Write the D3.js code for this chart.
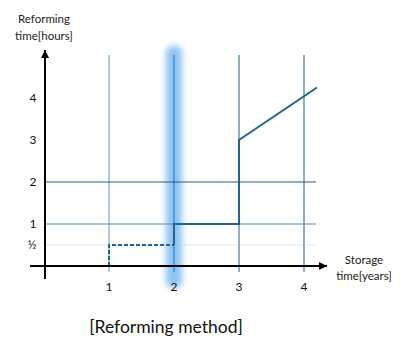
<!DOCTYPE html>
<html>
<head>
<meta charset="utf-8">
<script src="https://cdn.jsdelivr.net/npm/d3@7"></script>
<style>
  body { margin: 0; background: #fff; }
  text { font-family: Lato, "Open Sans", sans-serif; }
</style>
</head>
<body>
<div id="chart"></div>
<script>
var xTicks = [1, 2, 3, 4];
var yTicks = [1, 2, 3, 4];
var yTickLabels = ["1", "2", "3", "4"];
var yGrid = [1, 2];
var halfLine = 0.5;
var highlightYear = 2;

// dashed part then solid part of the reforming-time step line
var dashedPath = [[1, 0], [1, 0.5], [2, 0.5]];
var solidPath = [[2, 0.5], [2, 1], [3, 1], [3, 3], [4.2, 4.25]];

var w = 410, h = 346;

var x = d3.scaleLinear().domain([0, 4]).range([44, 304]);
var y = d3.scaleLinear().domain([0, 4]).range([266, 98]);

var svg = d3.select("#chart").append("svg")
  .attr("width", w)
  .attr("height", h);

var defs = svg.append("defs");
defs.append("filter").attr("id", "glow")
  .attr("x", "-100%").attr("width", "300%")
  .append("feGaussianBlur").attr("stdDeviation", 3);
defs.append("marker").attr("id", "arrow")
  .attr("viewBox", "0 0 10 10")
  .attr("refX", 10).attr("refY", 5)
  .attr("markerWidth", 4).attr("markerHeight", 4)
  .attr("orient", "auto")
  .append("path").attr("d", "M0,0L10,5L0,10z").attr("fill", "#000");

// highlight band around year 2
svg.append("rect")
  .attr("x", x(highlightYear) - 8)
  .attr("y", 46)
  .attr("width", 16)
  .attr("height", 242)
  .attr("rx", 6)
  .attr("fill", "#8ec3f3")
  .attr("filter", "url(#glow)");

// vertical grid
svg.selectAll(".vgrid")
  .data(xTicks)
  .enter().append("line")
  .attr("x1", d => x(d)).attr("x2", d => x(d))
  .attr("y1", 55).attr("y2", 272)
  .attr("stroke", d => d == highlightYear ? "#3d8fd6" : (d == 1 ? "#5f95b0" : "#1e5f82"))
  .attr("stroke-width", d => d == highlightYear ? 1.5 : 1);

// horizontal grid
svg.selectAll(".hgrid")
  .data(yGrid)
  .enter().append("line")
  .attr("x1", x(0)).attr("x2", 316)
  .attr("y1", d => y(d)).attr("y2", d => y(d))
  .attr("stroke", d => d == 1 ? "#4f8cab" : "#1e5f82")
  .attr("stroke-width", 1);

svg.append("line")
  .attr("x1", x(0)).attr("x2", 316)
  .attr("y1", y(halfLine)).attr("y2", y(halfLine))
  .attr("stroke", "#9cbccc")
  .attr("stroke-width", 0.8)
  .attr("stroke-dasharray", "1,1.5");

var line = d3.line().x(d => x(d[0])).y(d => y(d[1]));

svg.append("path")
  .attr("d", line(dashedPath))
  .attr("fill", "none")
  .attr("stroke", "#1f6590")
  .attr("stroke-width", 2)
  .attr("stroke-dasharray", "4,2");

svg.append("path")
  .attr("d", line(solidPath))
  .attr("fill", "none")
  .attr("stroke", "#1f6590")
  .attr("stroke-width", 2);

// axes with arrows
svg.append("line")
  .attr("x1", 30).attr("x2", 327)
  .attr("y1", y(0)).attr("y2", y(0))
  .attr("stroke", "#000").attr("stroke-width", 2)
  .attr("marker-end", "url(#arrow)");

svg.append("line")
  .attr("x1", x(0) + 1).attr("x2", x(0) + 1)
  .attr("y1", 279).attr("y2", 50)
  .attr("stroke", "#000").attr("stroke-width", 2)
  .attr("marker-end", "url(#arrow)");

// tick labels
svg.selectAll(".xlab")
  .data(xTicks)
  .enter().append("text")
  .attr("x", d => x(d))
  .attr("y", 291)
  .attr("text-anchor", "middle")
  .attr("font-size", 12)
  .attr("fill", "#111")
  .text(d => d);

svg.selectAll(".ylab")
  .data(yTicks)
  .enter().append("text")
  .attr("x", 33)
  .attr("y", d => y(d) + 4)
  .attr("text-anchor", "middle")
  .attr("font-size", 12)
  .attr("fill", "#111")
  .text((d, i) => yTickLabels[i]);

svg.append("text")
  .attr("x", 32)
  .attr("y", y(halfLine) + 4)
  .attr("text-anchor", "middle")
  .attr("font-size", 12)
  .attr("fill", "#111")
  .text("½");

// axis titles
var yTitle = svg.append("text").attr("text-anchor", "middle").attr("font-size", 11.5).attr("fill", "#222");
yTitle.append("tspan").attr("x", 44).attr("y", 23).text("Reforming");
yTitle.append("tspan").attr("x", 44).attr("y", 40).text("time[hours]");

var xTitle = svg.append("text").attr("text-anchor", "middle").attr("font-size", 11.5).attr("fill", "#222");
xTitle.append("tspan").attr("x", 364).attr("y", 264).text("Storage");
xTitle.append("tspan").attr("x", 364).attr("y", 280).text("time[years]");

svg.append("text")
  .attr("x", 166)
  .attr("y", 333)
  .attr("text-anchor", "middle")
  .attr("font-size", 17.5)
  .attr("fill", "#111")
  .text("[Reforming method]");
</script>
</body>
</html>
